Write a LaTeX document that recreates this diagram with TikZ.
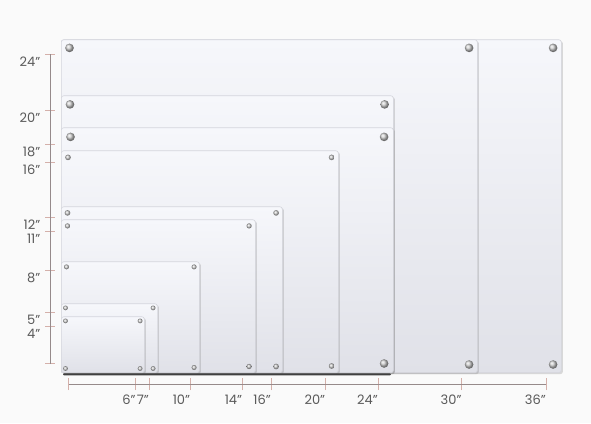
\documentclass[tikz,border=0pt]{standalone}
\usepackage{fontspec}
\setmainfont{Poppins}
\usepackage{xcolor}
\usetikzlibrary{calc,positioning,shadows}
\definecolor{bgcol}{RGB}{250,250,250}
\definecolor{paneltop}{RGB}{246,247,251}
\definecolor{panelbot}{RGB}{224,225,232}
\definecolor{paneledge}{RGB}{212,213,220}
\definecolor{axisline}{RGB}{150,138,138}
\definecolor{tickcol}{RGB}{212,176,170}
\definecolor{labelcol}{RGB}{90,90,90}
\tikzset{%
	panel/.style    = {draw=paneledge, line width=0.6pt, rounded corners=2.5pt, top color=paneltop, bottom color=panelbot, inner sep=0pt, anchor=south west, drop shadow={shadow xshift=1.6pt, shadow yshift=-1.4pt, opacity=0.28}}, % board
	screw/.style    = {ball color=gray!40}, % screw head
	axis/.style     = {draw=axisline, line width=0.8pt}, % dimension line
	dimtick/.style  = {draw=tickcol, line width=0.9pt}, % tick
	dimlabel/.style = {text=labelcol, inner sep=0pt, font=\fontsize{13}{15}\selectfont}, % size text
}

\begin{document}
\begin{tikzpicture}[x=1pt,y=-1pt]
	\fill[bgcol] (0,0) rectangle (591,423);
	% boards, back to front: right edge / top edge / screw radius / screw inset
	\foreach \r/\t/\sr/\si [count=\n] in {561/40/4.3/8.5, 477/40/4.3/8.5, 393/96/4.3/9, 393/128/4.3/9.5, 338/151/2.8/7, 282/207/2.8/6.5, 255/220/2.6/6.5, 199/262/2.5/5.5, 157/304/2.4/4.5, 144/317/2.4/4.5}
	{
		\node[panel, minimum width=\r pt-61pt, minimum height=373pt-\t pt] (p\n) at (61,373) {};
		\shade[screw] ([shift={(\si,\si)}]p\n.north west) circle (\sr);
		\shade[screw] ([shift={(-\si,\si)}]p\n.north east) circle (\sr);
		\shade[screw] ([shift={(-\si,-\si)}]p\n.south east) circle (\sr);
		\shade[screw] ([shift={(\si,-\si)}]p\n.south west) circle (\sr);
	}
	% dark foot under the front boards
	\fill[black!75, rounded corners=1pt] (63,373.3) rectangle (391,375.3);
	% height scale
	\foreach \y/\h in {54.3/24, 110/20, 144.3/18, 162.3/16, 217.7/12, 231/11, 270.7/8, 312/5, 326/4, 363.7/0}
	{
		\coordinate (v\h) at (50,\y);
		\draw[dimtick] ([xshift=-5]v\h) -- ([xshift=5]v\h);
	}
	\draw[axis] (v24) -- (v0);
	\foreach \h in {24,20,18,16,12,11,8,5,4}
		\node[dimlabel, anchor=north east] (lv\h) at ([shift={(-9.5,2.5)}]v\h) {\h”};
	% width scale
	\foreach \x/\w in {68.5/0, 135.7/6, 149/7, 190.3/10, 242.3/14, 271/16, 325.3/20, 378/24, 461.7/30, 546/36}
	{
		\coordinate (h\w) at (\x,384);
		\draw[dimtick] ([yshift=-6]h\w) -- ([yshift=6]h\w);
	}
	\draw[axis] (h0) -- (h36);
	\foreach \w in {6,7,10,14,16,20,24,30,36}
		\node[dimlabel, anchor=north east] (lh\w) at ([shift={(0,11)}]h\w) {\w”};
\end{tikzpicture}
\end{document}
